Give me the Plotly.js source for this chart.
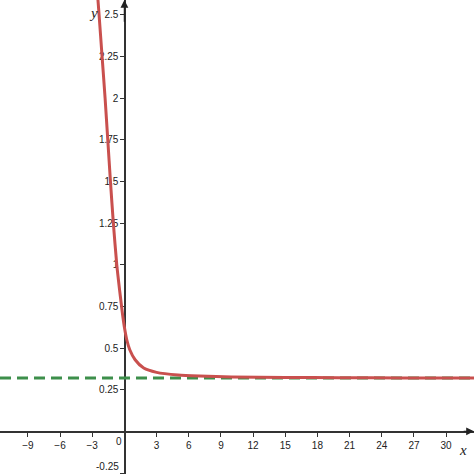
<!DOCTYPE html>
<html>
<head>
<meta charset="utf-8">
<script src="https://cdn.plot.ly/plotly-3.0.1.min.js"></script>
<style>
  html, body { margin: 0; padding: 0; background: #fff; }
  #graph { width: 474px; height: 474px; }
</style>
</head>
<body>
<div id="graph"></div>
<script>
// points
var curveX = [-2.5, -2.36, -2.08, -1.8, -1.55, -1.3, -1.03, -0.71, -0.45, -0.3, -0.15, 0, 0.22, 0.5, 1.0, 1.8, 3.0, 5.0, 7.0, 10, 15, 20, 26, 32.6];
var curveY = [2.62, 2.5, 2.25, 2.0, 1.75, 1.5, 1.25, 1.0, 0.85, 0.77, 0.69, 0.625, 0.55, 0.49, 0.43, 0.38, 0.354, 0.338, 0.332, 0.327, 0.324, 0.322, 0.321, 0.32];

var asymptoteY = 0.32;
var asymX = [-11.6, 32.6];

var xTicks = [-9, -6, -3, 3, 6, 9, 12, 15, 18, 21, 24, 27, 30];
var yTicks = [-0.25, 0.25, 0.5, 0.75, 1, 1.25, 1.5, 1.75, 2, 2.25, 2.5];
var yTickText = ['', '0.25', '0.5', '0.75', '1', '1.25', '1.5', '1.75', '2', '2.25', '2.5'];
var bottomLabel = '-0.25';

var xRange = [-11.6, 32.6];
var yRange = [-0.256, 2.59];

var curve = {
    type: 'scatter',
    mode: 'lines',
    x: curveX,
    y: curveY,
    line: {color: '#c9504e', width: 3, shape: 'spline', smoothing: 0.6},
    hoverinfo: 'skip'
};

var asym = {
    type: 'scatter',
    mode: 'lines',
    x: asymX,
    y: [asymptoteY, asymptoteY],
    line: {color: '#3d8f4b', width: 3, dash: '11px,6px'},
    hoverinfo: 'skip'
};

var xPos = (0 - yRange[0]) / (yRange[1] - yRange[0]);
var yPos = (0 - xRange[0]) / (xRange[1] - xRange[0]);

var tickFont = {family: 'Liberation Sans, Arial, sans-serif', size: 10, color: '#222'};
var labelFont = {family: 'Liberation Serif, DejaVu Serif, serif', size: 15, color: '#222'};

var layout = {
    width: 474,
    height: 474,
    margin: {l: 0, r: 0, t: 0, b: 0},
    paper_bgcolor: '#fff',
    plot_bgcolor: '#fff',
    showlegend: false,
    xaxis: {
        range: xRange,
        anchor: 'free',
        position: xPos,
        showgrid: false,
        zeroline: false,
        showline: true,
        linecolor: '#333',
        linewidth: 1.3,
        tickmode: 'array',
        tickvals: xTicks,
        ticks: 'outside',
        ticklen: 4,
        tickcolor: '#333',
        tickfont: tickFont,
        layer: 'below traces'
    },
    yaxis: {
        range: yRange,
        anchor: 'free',
        position: yPos,
        showgrid: false,
        zeroline: false,
        showline: true,
        linecolor: '#333',
        linewidth: 1.3,
        tickmode: 'array',
        tickvals: yTicks,
        ticktext: yTickText,
        ticks: 'outside',
        ticklen: 4,
        tickcolor: '#333',
        tickfont: tickFont,
        layer: 'below traces'
    },
    annotations: [
        {x: 0, y: yRange[1], ax: 0, ay: 2.45, xref: 'x', yref: 'y', axref: 'x', ayref: 'y',
         text: '', showarrow: true, arrowhead: 2, arrowsize: 1.2, arrowwidth: 1.3, arrowcolor: '#222'},
        {x: xRange[1], y: 0, ax: 31.5, ay: 0, xref: 'x', yref: 'y', axref: 'x', ayref: 'y',
         text: '', showarrow: true, arrowhead: 2, arrowsize: 1.2, arrowwidth: 1.3, arrowcolor: '#222'},
        {x: -0.55, y: 0, xref: 'x', yref: 'y', text: '0', showarrow: false,
         xanchor: 'center', yanchor: 'top', yshift: -3, font: tickFont},
        {x: 0, y: yRange[0], xref: 'x', yref: 'y', text: bottomLabel, showarrow: false,
         xanchor: 'right', yanchor: 'bottom', xshift: -3, yshift: 0, font: tickFont},
        {x: -2.9, y: 2.51, xref: 'x', yref: 'y', text: '<i>y</i>', showarrow: false, font: labelFont},
        {x: 31.6, y: -0.11, xref: 'x', yref: 'y', text: '<i>x</i>', showarrow: false, font: labelFont}
    ]
};

Plotly.newPlot('graph', [asym, curve], layout, {staticPlot: true});
</script>
</body>
</html>
